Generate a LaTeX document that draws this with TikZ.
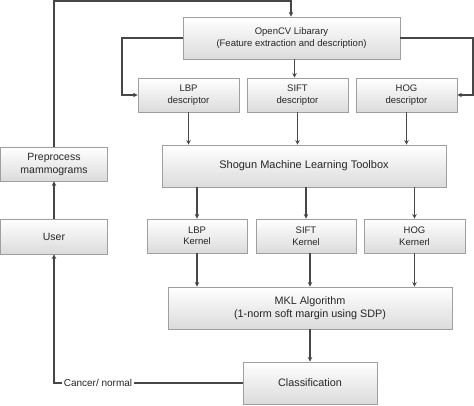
\documentclass[tikz,border=0pt]{standalone}
\usepackage{fontspec}
\setmainfont{Liberation Sans}
\usetikzlibrary{arrows.meta,calc}
\tikzset{
  box/.style={draw=gray!75, line width=0.9pt, top color=white, bottom color=gray!28,
    align=center, inner sep=1pt, font=\fontsize{9.5}{11.5}\selectfont, text=black!85},
  conn/.style={draw=black!72, line width=1.2pt},
  arr/.style={conn, -{Stealth[length=4.5pt,width=4.5pt]}},
}
\begin{document}
\begin{tikzpicture}[x=1pt,y=-1pt]
\useasboundingbox (0,0) rectangle (474,405);
\node[box, minimum width=217, minimum height=42] (opencv) at (291.5,38) {OpenCV Libarary\\(Feature extraction and description)};
\node[box, minimum width=101, minimum height=34] (lbpd) at (188.5,95) {LBP\\descriptor};
\node[box, minimum width=101, minimum height=34] (siftd) at (297.5,95) {SIFT\\descriptor};
\node[box, minimum width=101, minimum height=34] (hogd) at (406.5,95) {HOG\\descriptor};
\node[box, minimum width=284, minimum height=42, font=\fontsize{11}{13}\selectfont] (shogun) at (304,166) {Shogun Machine Learning Toolbox};
\node[box, minimum width=107, minimum height=34, font=\fontsize{10.5}{13}\selectfont] (prep) at (54,164) {Preprocess\\mammograms};
\node[box, minimum width=107, minimum height=35, font=\fontsize{10.5}{13}\selectfont] (user) at (54,236.5) {User};
\node[box, minimum width=100, minimum height=34] (lbpk) at (197,236) {LBP\\Kernel};
\node[box, minimum width=100, minimum height=34] (siftk) at (306,236) {SIFT\\Kernel};
\node[box, minimum width=101, minimum height=34] (hogk) at (414.5,236) {HOG\\Kernerl};
\node[box, minimum width=284, minimum height=42, font=\fontsize{10.8}{13}\selectfont] (mkl) at (310,308) {MKL Algorithm\\(1-norm soft margin using SDP)};
\node[box, minimum width=134, minimum height=42, font=\fontsize{10.8}{13}\selectfont] (cls) at (310,383) {Classification};

\coordinate (tl) at (54,1);
\coordinate (tr) at (291,1);
\coordinate (lc) at (122,38);
\coordinate (rc) at (473,38);
\coordinate (bl) at (54,383);

\draw[arr] (prep.north) -- (tl) -- (tr) -- (opencv.north -| tr);
\draw[arr] (lc -| opencv.west) -- (lc) |- (lbpd.west);
\draw[arr] (rc -| opencv.east) -- (rc) |- (hogd.east);
\draw[arr] ([xshift=3pt]opencv.south) -- ([xshift=3pt]opencv.south |- siftd.north);

\draw[arr] (lbpd.south) -- (lbpd.south |- shogun.north);
\draw[arr] (siftd.south) -- (siftd.south |- shogun.north);
\draw[arr] (hogd.south) -- (hogd.south |- shogun.north);

\draw[arr] (lbpk.north |- shogun.south) -- (lbpk.north);
\draw[arr] (siftk.north |- shogun.south) -- (siftk.north);
\draw[arr] (hogk.north |- shogun.south) -- (hogk.north);

\draw[arr] (lbpk.south) -- (lbpk.south |- mkl.north);
\draw[arr] (mkl.north |- siftk.south) -- (mkl.north);
\draw[arr] (hogk.south) -- (hogk.south |- mkl.north);

\draw[arr] (mkl.south) -- (cls.north);
\draw[arr] (user.north) -- (prep.south);
\draw[arr] (cls.west) -- (bl) -- (user.south);
\node[fill=white, inner sep=2pt, font=\fontsize{10}{12}\selectfont, text=black!85] (lab) at (98,383) {Cancer/ normal};
\end{tikzpicture}
\end{document}
